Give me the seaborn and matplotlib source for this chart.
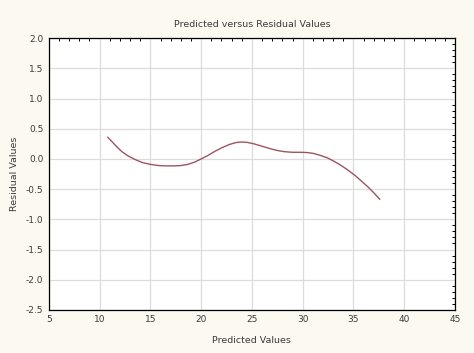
import numpy as np
import pandas as pd
import matplotlib
matplotlib.use('Agg')
import matplotlib.pyplot as plt
from matplotlib.ticker import MultipleLocator, FormatStrFormatter
import seaborn as sns

# values
predicted = [10.8, 11.2, 11.7, 12.2, 12.8, 13.5, 14.2, 15.0, 15.8, 16.5, 17.3, 18.0,
             18.7, 19.4, 20.0, 20.7, 21.4, 22.1, 22.8, 23.4, 23.9, 24.5, 25.2, 26.0,
             26.8, 27.5, 28.2, 29.0, 29.8, 30.5, 31.1, 31.7, 32.4, 33.1, 33.8, 34.5,
             35.2, 35.8, 36.4, 37.0, 37.6]
residual = [0.36, 0.29, 0.20, 0.12, 0.05, -0.01, -0.06, -0.09, -0.11, -0.115, -0.115, -0.11,
            -0.09, -0.05, 0.00, 0.06, 0.13, 0.19, 0.24, 0.27, 0.28, 0.275, 0.25, 0.21,
            0.17, 0.14, 0.12, 0.11, 0.11, 0.105, 0.09, 0.06, 0.02, -0.04, -0.11, -0.19,
            -0.28, -0.37, -0.46, -0.56, -0.67]

df = pd.DataFrame({'Predicted Values': predicted, 'Residual Values': residual})

sns.set_theme(style='white')
plt.rcParams['font.family'] = ['DejaVu Sans']

bg = '#fcfaf0'
fig = plt.figure(figsize=(4.74, 3.53), dpi=100, facecolor=bg)
ax = fig.add_axes([0.103, 0.122, 0.857, 0.770])
ax.set_facecolor('white')

sns.lineplot(data=df, x='Predicted Values', y='Residual Values', ax=ax,
             color='#9c5560', linewidth=1.0, sort=False)

ax.set_xlim(5, 45)
ax.set_ylim(-2.5, 2.0)
ax.xaxis.set_major_locator(MultipleLocator(5))
ax.yaxis.set_major_locator(MultipleLocator(0.5))
ax.xaxis.set_minor_locator(MultipleLocator(1))
ax.yaxis.set_minor_locator(MultipleLocator(0.1))
ax.yaxis.set_major_formatter(FormatStrFormatter('%.1f'))
ax.grid(True, which='major', color='#dcdcdc', linewidth=0.9)
ax.tick_params(which='both', direction='in', top=True, right=True,
               colors='black', labelcolor='#3a3a3a', labelsize=6.5)
ax.tick_params(which='major', length=0, pad=4)
ax.tick_params(which='minor', length=2.5, width=0.7)
for s in ax.spines.values():
    s.set_color('black')
    s.set_linewidth(0.9)

ax.set_title('Predicted versus Residual Values', fontsize=6.8, color='#3a3a3a', pad=8)
ax.set_xlabel('Predicted Values', fontsize=6.8, color='#3a3a3a', labelpad=8)
ax.set_ylabel('Residual Values', fontsize=6.8, color='#3a3a3a', labelpad=5)

plt.savefig('out.png', dpi=100, facecolor=bg)
